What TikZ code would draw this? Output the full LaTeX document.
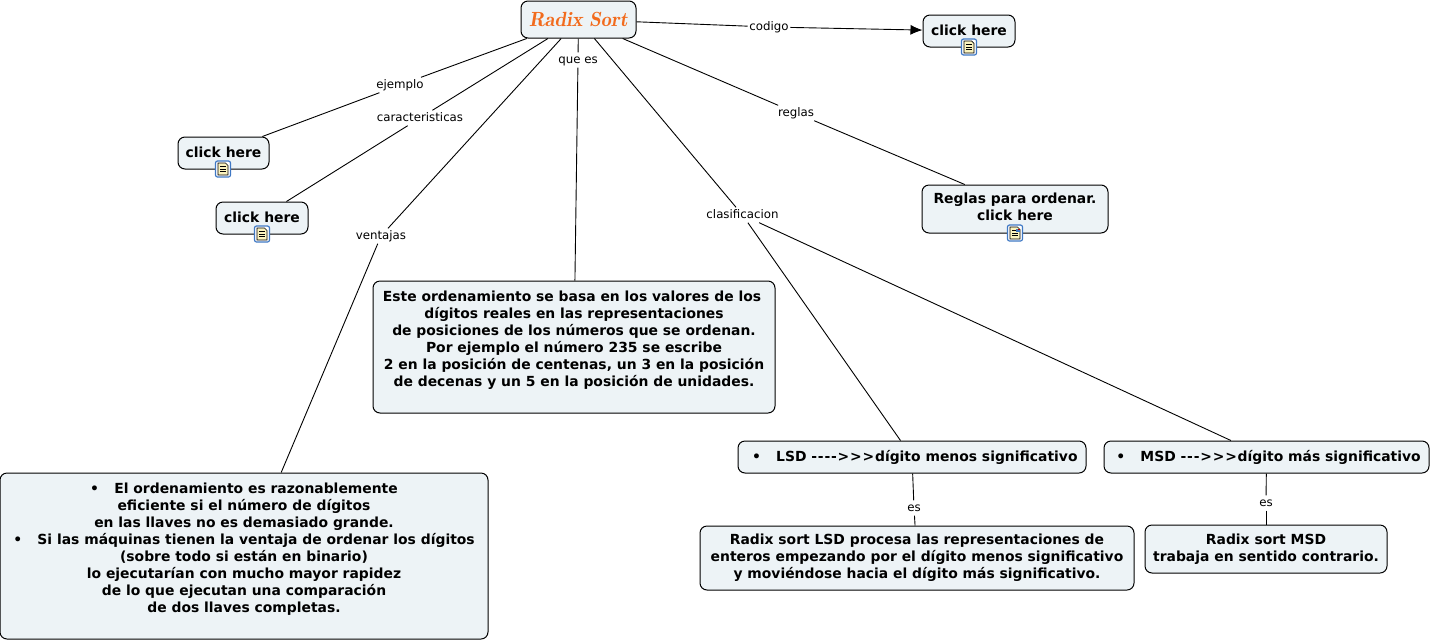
\documentclass[tikz,border=0pt]{standalone}
\usepackage{fontspec}
\setmainfont{DejaVu Sans}
\usetikzlibrary{arrows.meta}
\definecolor{boxfill}{HTML}{EDF3F6}
\definecolor{iconblue}{HTML}{3F78C4}
\definecolor{iconpaper}{HTML}{FBF3BE}
\definecolor{titleorange}{HTML}{F26B1D}
\tikzset{
  conceptbox/.style={draw=black, fill=boxfill, line width=1pt, rounded corners=7pt,
    align=center, inner sep=0pt, font=\bfseries\fontsize{13.9}{17}\selectfont},
  linklabel/.style={fill=white, inner sep=1.5pt, text height=9pt, text depth=3pt,
    font=\fontsize{11.8}{14}\selectfont},
  linkline/.style={draw=black, line width=0.9pt},
}
\newcommand{\noteicon}[2]{
  \draw[iconblue, line width=1.2pt, fill=white, rounded corners=2pt] (#1-7.5,#2-8) rectangle (#1+7.5,#2+8);
  \draw[black, line width=0.7pt, fill=iconpaper] (#1-5,#2-6) -- (#1+2.5,#2-6) -- (#1+5,#2-3.5) -- (#1+5,#2+6) -- (#1-5,#2+6) -- cycle;
  \foreach \rowy in {-2.5,0,2.5}
    \draw[black, line width=0.7pt] (#1-3,#2+\rowy) -- (#1+3,#2+\rowy);
}
\newcommand{\dashgap}{\kern0.8pt}
\begin{document}
\begin{tikzpicture}[x=1pt, y=-1pt]
\useasboundingbox (0,0) rectangle (1430,641);

% root
\node[conceptbox, minimum width=115pt, minimum height=37pt] (root) at (578.5,19.5)
  {\fontsize{20.5}{22}\selectfont\fontfamily{lmr}\bfseries\itshape\color{titleorange}Radix Sort};

% boxes
\node[conceptbox, minimum width=92pt, minimum height=32pt] (codebox) at (969,31) {click here\\[-15pt]};
\node[conceptbox, minimum width=91pt, minimum height=32pt] (examplebox) at (223.5,153) {click here\\[-15pt]};
\node[conceptbox, minimum width=92pt, minimum height=32pt] (featurebox) at (262,218) {click here\\[-15pt]};
\node[conceptbox, minimum width=186pt, minimum height=48pt] (rulesbox) at (1015,209)
  {Reglas para ordenar.\\ click here\\[-13pt]};
\node[conceptbox, minimum width=402pt, minimum height=132pt] (whatbox) at (574,347)
  {Este ordenamiento se basa en los valores de los\hspace*{4pt}\\
   dígitos reales en las representaciones\hspace*{4pt}\\
   de posiciones de los números que se ordenan.\\
   Por ejemplo el número 235 se escribe\\
   2 en la posición de centenas, un 3 en la posición\hspace*{3pt}\\
   de decenas y un 5 en la posición de unidades.\\};
\node[conceptbox, minimum width=488pt, minimum height=166pt] (prosbox) at (244,556)
  {•\hspace{1.1em}El ordenamiento es razonablemente\\
   eficiente si el número de dígitos\\
   en las llaves no es demasiado grande.\\
   •\hspace{1.1em}Si las máquinas tienen la ventaja de ordenar los dígitos\\
   (sobre todo si están en binario)\\
   lo ejecutarían con mucho mayor rapidez\\
   de lo que ejecutan una comparación\\
   de dos llaves completas.\\};
\node[conceptbox, minimum width=348pt, minimum height=32pt] (lsdbox) at (912,457)
  {\hspace*{5.6pt}•\hspace{1.1em}LSD -\dashgap-\dashgap-\dashgap-\dashgap{>}\dashgap{>}\dashgap{>}\dashgap dígito menos significativo};
\node[conceptbox, minimum width=325pt, minimum height=32pt] (msdbox) at (1266.5,457)
  {\hspace*{4pt}•\hspace{1.1em}MSD -\dashgap-\dashgap-\dashgap{>}\dashgap{>}\dashgap{>}\dashgap dígito más significativo};
\node[conceptbox, minimum width=434pt, minimum height=64pt] (lsdtext) at (917,558)
  {Radix sort LSD procesa las representaciones de\\
   enteros empezando por el dígito menos significativo\\
   y moviéndose hacia el dígito más significativo.};
\node[conceptbox, minimum width=242pt, minimum height=48pt] (msdtext) at (1266,549)
  {Radix sort MSD\\ trabaja en sentido contrario.};

% labels
\node[linklabel] (lblexample) at (400,85) {ejemplo};
\node[linklabel] (lblfeature) at (420,118) {caracteristicas};
\node[linklabel] (lblpros) at (381,236) {ventajas};
\node[linklabel] (lblwhat) at (578,60) {que es};
\node[linklabel] (lblrules) at (796,113) {reglas};
\node[linklabel] (lblcode) at (769,27) {codigo};
\node[linklabel] (lblclass) at (742.5,215) {clasificacion};
\node[linklabel] (lbllsd) at (914,508) {es};
\node[linklabel] (lblmsd) at (1266,503) {es};

% connectors
\draw[linkline] (root) -- (lblexample);
\draw[linkline] (lblexample) -- (examplebox.23);
\draw[linkline] (root) -- (lblfeature);
\draw[linkline] (lblfeature) -- (featurebox.34);
\draw[linkline] (root) -- (lblpros);
\draw[linkline] (lblpros) -- (prosbox.66);
\draw[linkline] (root) -- (lblwhat);
\draw[linkline] (lblwhat) -- (whatbox);
\draw[linkline] (root) -- (lblrules);
\draw[linkline] (lblrules) -- (rulesbox.154);
\draw[linkline] (root) -- (lblcode);
\draw[linkline, -{Latex[length=12pt,width=10pt]}] (lblcode) -- (codebox);
\draw[linkline] (root) -- (lblclass);
\draw[linkline] (lblclass) -- (lsdbox);
\draw[linkline] (lblclass) -- (msdbox);
\draw[linkline] (lsdbox) -- (lbllsd);
\draw[linkline] (lbllsd) -- (lsdtext);
\draw[linkline] (msdbox) -- (lblmsd);
\draw[linkline] (lblmsd) -- (msdtext);

% icons
\noteicon{969}{47}
\noteicon{223}{169}
\noteicon{262}{234}
\noteicon{1015}{233}
\fill[iconblue] (1015.5,228.5) rectangle (1019.5,232);
\fill[red!70!black] (1017.5,228.5) rectangle (1019.5,230);
\end{tikzpicture}
\end{document}
